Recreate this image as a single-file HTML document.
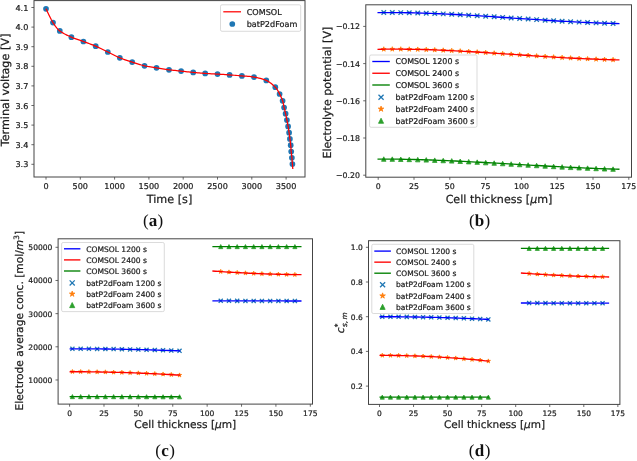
<!DOCTYPE html>
<html><head><meta charset="utf-8"><title>Figure</title>
<style>html,body{margin:0;padding:0;background:#fff}svg{display:block;filter:blur(0.35px)}text{text-rendering:geometricPrecision;stroke:#222;stroke-width:0.22px;font-family:'DejaVu Sans','Liberation Sans',sans-serif}</style></head><body>
<svg width="637" height="461" viewBox="0 0 637 461">
<rect width="637" height="461" fill="#fff"/>
<g id="pa">
<circle cx="46" cy="8.8" r="2.85" fill="#1f77b4"/>
<circle cx="53" cy="22.6" r="2.85" fill="#1f77b4"/>
<circle cx="59.8" cy="30.9" r="2.85" fill="#1f77b4"/>
<circle cx="71.4" cy="37.2" r="2.85" fill="#1f77b4"/>
<circle cx="83.4" cy="41.5" r="2.85" fill="#1f77b4"/>
<circle cx="95.7" cy="46.2" r="2.85" fill="#1f77b4"/>
<circle cx="107.8" cy="52" r="2.85" fill="#1f77b4"/>
<circle cx="119.8" cy="57.8" r="2.85" fill="#1f77b4"/>
<circle cx="132.2" cy="62.1" r="2.85" fill="#1f77b4"/>
<circle cx="144.5" cy="65.8" r="2.85" fill="#1f77b4"/>
<circle cx="156.5" cy="67.8" r="2.85" fill="#1f77b4"/>
<circle cx="169" cy="69.8" r="2.85" fill="#1f77b4"/>
<circle cx="181.1" cy="71.1" r="2.85" fill="#1f77b4"/>
<circle cx="193.2" cy="72.4" r="2.85" fill="#1f77b4"/>
<circle cx="205.2" cy="73.4" r="2.85" fill="#1f77b4"/>
<circle cx="217.5" cy="74.1" r="2.85" fill="#1f77b4"/>
<circle cx="229.6" cy="74.9" r="2.85" fill="#1f77b4"/>
<circle cx="241.9" cy="75.9" r="2.85" fill="#1f77b4"/>
<circle cx="254" cy="77.1" r="2.85" fill="#1f77b4"/>
<circle cx="266.3" cy="80.4" r="2.85" fill="#1f77b4"/>
<circle cx="275.3" cy="87.2" r="2.85" fill="#1f77b4"/>
<circle cx="279.6" cy="94" r="2.85" fill="#1f77b4"/>
<circle cx="282.6" cy="100.8" r="2.85" fill="#1f77b4"/>
<circle cx="284.1" cy="107.5" r="2.85" fill="#1f77b4"/>
<circle cx="285.6" cy="113.7" r="2.85" fill="#1f77b4"/>
<circle cx="286.9" cy="120.1" r="2.85" fill="#1f77b4"/>
<circle cx="288.1" cy="126.4" r="2.85" fill="#1f77b4"/>
<circle cx="289.1" cy="132.7" r="2.85" fill="#1f77b4"/>
<circle cx="289.9" cy="138.9" r="2.85" fill="#1f77b4"/>
<circle cx="290.7" cy="145.2" r="2.85" fill="#1f77b4"/>
<circle cx="291.2" cy="151.5" r="2.85" fill="#1f77b4"/>
<circle cx="291.9" cy="157.8" r="2.85" fill="#1f77b4"/>
<circle cx="292.4" cy="164.1" r="2.85" fill="#1f77b4"/>
<polyline points="46,8.8 46.54,9.9 47.26,11.41 48.12,13.21 49.07,15.18 50.08,17.22 51.1,19.21 52.09,21.04 53,22.6 53.83,23.91 54.6,25.11 55.35,26.2 56.11,27.22 56.91,28.18 57.77,29.09 58.72,30 59.8,30.9 61.02,31.8 62.35,32.66 63.78,33.5 65.28,34.3 66.81,35.07 68.36,35.81 69.9,36.52 71.4,37.2 72.88,37.83 74.36,38.41 75.86,38.94 77.36,39.45 78.86,39.95 80.37,40.44 81.88,40.96 83.4,41.5 84.92,42.06 86.46,42.62 88,43.18 89.54,43.76 91.09,44.34 92.63,44.94 94.17,45.56 95.7,46.2 97.22,46.87 98.74,47.57 100.26,48.29 101.77,49.03 103.28,49.78 104.79,50.52 106.29,51.27 107.8,52 109.3,52.74 110.8,53.49 112.29,54.24 113.78,54.99 115.28,55.73 116.77,56.46 118.28,57.15 119.8,57.8 121.33,58.41 122.87,58.99 124.43,59.55 125.98,60.08 127.54,60.6 129.1,61.1 130.65,61.6 132.2,62.1 133.74,62.6 135.29,63.11 136.83,63.61 138.38,64.09 139.91,64.56 141.45,65.01 142.98,65.42 144.5,65.8 146.01,66.13 147.51,66.42 149,66.67 150.49,66.91 151.98,67.12 153.47,67.34 154.98,67.56 156.5,67.8 158.04,68.05 159.6,68.32 161.17,68.58 162.74,68.84 164.32,69.1 165.89,69.35 167.45,69.58 169,69.8 170.53,70 172.05,70.17 173.57,70.34 175.08,70.49 176.58,70.64 178.08,70.79 179.59,70.94 181.1,71.1 182.61,71.26 184.13,71.43 185.64,71.6 187.16,71.77 188.67,71.93 190.18,72.1 191.69,72.25 193.2,72.4 194.7,72.54 196.2,72.68 197.69,72.81 199.19,72.94 200.68,73.06 202.18,73.18 203.69,73.29 205.2,73.4 206.72,73.5 208.26,73.59 209.8,73.68 211.34,73.76 212.89,73.84 214.43,73.92 215.97,74.01 217.5,74.1 219.02,74.19 220.53,74.29 222.04,74.38 223.55,74.48 225.06,74.58 226.57,74.68 228.08,74.79 229.6,74.9 231.13,75.01 232.67,75.13 234.21,75.25 235.75,75.38 237.29,75.5 238.83,75.63 240.37,75.76 241.9,75.9 243.42,76.03 244.93,76.14 246.44,76.24 247.95,76.36 249.46,76.49 250.97,76.65 252.48,76.85 254,77.1 255.55,77.39 257.14,77.7 258.74,78.03 260.34,78.4 261.92,78.81 263.45,79.28 264.92,79.81 266.3,80.4 267.62,81.08 268.89,81.85 270.12,82.69 271.3,83.58 272.41,84.5 273.46,85.42 274.42,86.33 275.3,87.2 276.07,88.05 276.74,88.9 277.31,89.75 277.83,90.6 278.29,91.45 278.73,92.3 279.16,93.15 279.6,94 280.05,94.85 280.48,95.7 280.89,96.55 281.28,97.41 281.64,98.26 281.99,99.11 282.31,99.95 282.6,100.8 282.86,101.65 283.08,102.49 283.27,103.34 283.44,104.19 283.6,105.03 283.76,105.86 283.92,106.69 284.1,107.5 284.29,108.3 284.48,109.08 284.67,109.85 284.86,110.62 285.05,111.38 285.24,112.15 285.42,112.92 285.6,113.7 285.77,114.49 285.94,115.29 286.11,116.09 286.27,116.89 286.43,117.7 286.59,118.5 286.74,119.3 286.9,120.1 287.06,120.89 287.21,121.68 287.37,122.47 287.52,123.26 287.67,124.04 287.82,124.83 287.96,125.61 288.1,126.4 288.24,127.19 288.37,127.98 288.5,128.77 288.63,129.56 288.75,130.34 288.87,131.13 288.99,131.92 289.1,132.7 289.21,133.48 289.31,134.25 289.41,135.03 289.51,135.8 289.61,136.57 289.7,137.35 289.8,138.12 289.9,138.9 290,139.68 290.11,140.47 290.21,141.26 290.32,142.04 290.42,142.83 290.52,143.62 290.61,144.41 290.7,145.2 290.78,145.99 290.84,146.77 290.9,147.56 290.96,148.35 291.01,149.14 291.07,149.92 291.13,150.71 291.2,151.5 291.28,152.29 291.37,153.07 291.46,153.86 291.55,154.65 291.64,155.44 291.73,156.23 291.82,157.01 291.9,157.8 291.97,158.6 292.04,159.41 292.11,160.22 292.17,161.04 292.23,161.84 292.29,162.62 292.34,163.38 292.4,164.1 292.46,164.81 292.52,165.54 292.57,166.26 292.63,166.94 292.68,167.58 292.73,168.15 292.77,168.63 292.8,169" fill="none" stroke="#ff0000" stroke-width="1.25" stroke-linejoin="round"/>
<rect x="34" y="0.6" width="271" height="176.4" fill="none" stroke="#444444" stroke-width="1.0"/>
<line x1="46" y1="177" x2="46" y2="179.6" stroke="#444444" stroke-width="0.8"/>
<text x="46" y="188.86" font-size="8.1" text-anchor="middle" fill="#1a1a1a" >0</text>
<line x1="80.3" y1="177" x2="80.3" y2="179.6" stroke="#444444" stroke-width="0.8"/>
<text x="80.3" y="188.86" font-size="8.1" text-anchor="middle" fill="#1a1a1a" >500</text>
<line x1="114.6" y1="177" x2="114.6" y2="179.6" stroke="#444444" stroke-width="0.8"/>
<text x="114.6" y="188.86" font-size="8.1" text-anchor="middle" fill="#1a1a1a" >1000</text>
<line x1="148.9" y1="177" x2="148.9" y2="179.6" stroke="#444444" stroke-width="0.8"/>
<text x="148.9" y="188.86" font-size="8.1" text-anchor="middle" fill="#1a1a1a" >1500</text>
<line x1="183.2" y1="177" x2="183.2" y2="179.6" stroke="#444444" stroke-width="0.8"/>
<text x="183.2" y="188.86" font-size="8.1" text-anchor="middle" fill="#1a1a1a" >2000</text>
<line x1="217.5" y1="177" x2="217.5" y2="179.6" stroke="#444444" stroke-width="0.8"/>
<text x="217.5" y="188.86" font-size="8.1" text-anchor="middle" fill="#1a1a1a" >2500</text>
<line x1="251.8" y1="177" x2="251.8" y2="179.6" stroke="#444444" stroke-width="0.8"/>
<text x="251.8" y="188.86" font-size="8.1" text-anchor="middle" fill="#1a1a1a" >3000</text>
<line x1="286.1" y1="177" x2="286.1" y2="179.6" stroke="#444444" stroke-width="0.8"/>
<text x="286.1" y="188.86" font-size="8.1" text-anchor="middle" fill="#1a1a1a" >3500</text>
<line x1="31.4" y1="7.5" x2="34" y2="7.5" stroke="#444444" stroke-width="0.8"/>
<text x="28.3" y="10.58" font-size="8.1" text-anchor="end" fill="#1a1a1a" >4.1</text>
<line x1="31.4" y1="27.1" x2="34" y2="27.1" stroke="#444444" stroke-width="0.8"/>
<text x="28.3" y="30.18" font-size="8.1" text-anchor="end" fill="#1a1a1a" >4.0</text>
<line x1="31.4" y1="46.7" x2="34" y2="46.7" stroke="#444444" stroke-width="0.8"/>
<text x="28.3" y="49.78" font-size="8.1" text-anchor="end" fill="#1a1a1a" >3.9</text>
<line x1="31.4" y1="66.3" x2="34" y2="66.3" stroke="#444444" stroke-width="0.8"/>
<text x="28.3" y="69.38" font-size="8.1" text-anchor="end" fill="#1a1a1a" >3.8</text>
<line x1="31.4" y1="85.9" x2="34" y2="85.9" stroke="#444444" stroke-width="0.8"/>
<text x="28.3" y="88.98" font-size="8.1" text-anchor="end" fill="#1a1a1a" >3.7</text>
<line x1="31.4" y1="105.5" x2="34" y2="105.5" stroke="#444444" stroke-width="0.8"/>
<text x="28.3" y="108.58" font-size="8.1" text-anchor="end" fill="#1a1a1a" >3.6</text>
<line x1="31.4" y1="125.1" x2="34" y2="125.1" stroke="#444444" stroke-width="0.8"/>
<text x="28.3" y="128.18" font-size="8.1" text-anchor="end" fill="#1a1a1a" >3.5</text>
<line x1="31.4" y1="144.7" x2="34" y2="144.7" stroke="#444444" stroke-width="0.8"/>
<text x="28.3" y="147.78" font-size="8.1" text-anchor="end" fill="#1a1a1a" >3.4</text>
<line x1="31.4" y1="164.3" x2="34" y2="164.3" stroke="#444444" stroke-width="0.8"/>
<text x="28.3" y="167.38" font-size="8.1" text-anchor="end" fill="#1a1a1a" >3.3</text>
<text x="169.5" y="202.7" font-size="11.2" text-anchor="middle" fill="#1a1a1a" >Time [s]</text>
<text transform="translate(9.2,90) rotate(-90)" font-size="11.2" text-anchor="middle" fill="#1a1a1a">Terminal voltage [V]</text>
<rect x="220.5" y="4.8" width="80.2" height="26.5" rx="1.5" ry="1.5" fill="#ffffff" fill-opacity="0.8" stroke="#cccccc" stroke-width="0.7"/>
<line x1="223.3" y1="11.8" x2="241" y2="11.8" stroke="#ff0000" stroke-width="1.25"/>
<text x="246.7" y="14.75" font-size="8.1" text-anchor="start" fill="#1a1a1a" >COMSOL</text>
<circle cx="232.3" cy="24" r="2.85" fill="#1f77b4"/>
<text x="246.7" y="26.8" font-size="8.1" text-anchor="start" fill="#1a1a1a" >batP2dFoam</text>
</g>
<text x="153.12" y="225.8" letter-spacing="0.15" text-anchor="middle" fill="#111" stroke="none" style="stroke:none;font-family:'Liberation Serif','DejaVu Serif',serif" font-size="17">(<tspan font-weight="bold">a</tspan>)</text>
<g id="pb">
<path d="M381.53,10.33L386.03,14.83M381.53,14.83L386.03,10.33" stroke="#1f77b4" stroke-width="1.3" fill="none"/>
<path d="M390.03,10.32L394.53,14.82M390.03,14.82L394.53,10.32" stroke="#1f77b4" stroke-width="1.3" fill="none"/>
<path d="M398.52,10.39L403.02,14.89M398.52,14.89L403.02,10.39" stroke="#1f77b4" stroke-width="1.3" fill="none"/>
<path d="M407.01,10.52L411.51,15.02M407.01,15.02L411.51,10.52" stroke="#1f77b4" stroke-width="1.3" fill="none"/>
<path d="M415.5,10.72L420,15.22M415.5,15.22L420,10.72" stroke="#1f77b4" stroke-width="1.3" fill="none"/>
<path d="M423.99,10.98L428.49,15.48M423.99,15.48L428.49,10.98" stroke="#1f77b4" stroke-width="1.3" fill="none"/>
<path d="M432.49,11.29L436.99,15.79M432.49,15.79L436.99,11.29" stroke="#1f77b4" stroke-width="1.3" fill="none"/>
<path d="M440.98,11.65L445.48,16.15M440.98,16.15L445.48,11.65" stroke="#1f77b4" stroke-width="1.3" fill="none"/>
<path d="M449.47,12.06L453.97,16.56M449.47,16.56L453.97,12.06" stroke="#1f77b4" stroke-width="1.3" fill="none"/>
<path d="M457.96,12.5L462.46,17M457.96,17L462.46,12.5" stroke="#1f77b4" stroke-width="1.3" fill="none"/>
<path d="M466.45,12.98L470.95,17.48M466.45,17.48L470.95,12.98" stroke="#1f77b4" stroke-width="1.3" fill="none"/>
<path d="M474.94,13.48L479.44,17.98M474.94,17.98L479.44,13.48" stroke="#1f77b4" stroke-width="1.3" fill="none"/>
<path d="M483.44,14.01L487.94,18.51M483.44,18.51L487.94,14.01" stroke="#1f77b4" stroke-width="1.3" fill="none"/>
<path d="M491.93,14.56L496.43,19.06M491.93,19.06L496.43,14.56" stroke="#1f77b4" stroke-width="1.3" fill="none"/>
<path d="M500.42,15.12L504.92,19.62M500.42,19.62L504.92,15.12" stroke="#1f77b4" stroke-width="1.3" fill="none"/>
<path d="M508.91,15.69L513.41,20.19M508.91,20.19L513.41,15.69" stroke="#1f77b4" stroke-width="1.3" fill="none"/>
<path d="M517.4,16.26L521.9,20.76M517.4,20.76L521.9,16.26" stroke="#1f77b4" stroke-width="1.3" fill="none"/>
<path d="M525.89,16.83L530.39,21.33M525.89,21.33L530.39,16.83" stroke="#1f77b4" stroke-width="1.3" fill="none"/>
<path d="M534.39,17.39L538.89,21.89M534.39,21.89L538.89,17.39" stroke="#1f77b4" stroke-width="1.3" fill="none"/>
<path d="M542.88,17.93L547.38,22.43M542.88,22.43L547.38,17.93" stroke="#1f77b4" stroke-width="1.3" fill="none"/>
<path d="M551.37,18.46L555.87,22.96M551.37,22.96L555.87,18.46" stroke="#1f77b4" stroke-width="1.3" fill="none"/>
<path d="M559.86,18.96L564.36,23.46M559.86,23.46L564.36,18.96" stroke="#1f77b4" stroke-width="1.3" fill="none"/>
<path d="M568.35,19.44L572.85,23.94M568.35,23.94L572.85,19.44" stroke="#1f77b4" stroke-width="1.3" fill="none"/>
<path d="M576.85,19.88L581.35,24.38M576.85,24.38L581.35,19.88" stroke="#1f77b4" stroke-width="1.3" fill="none"/>
<path d="M585.34,20.28L589.84,24.78M585.34,24.78L589.84,20.28" stroke="#1f77b4" stroke-width="1.3" fill="none"/>
<path d="M593.83,20.64L598.33,25.14M593.83,25.14L598.33,20.64" stroke="#1f77b4" stroke-width="1.3" fill="none"/>
<path d="M602.32,20.95L606.82,25.45M602.32,25.45L606.82,20.95" stroke="#1f77b4" stroke-width="1.3" fill="none"/>
<path d="M610.81,21.21L615.31,25.71M610.81,25.71L615.31,21.21" stroke="#1f77b4" stroke-width="1.3" fill="none"/>
<polyline points="377.48,12.64 381.59,12.6 385.69,12.58 389.79,12.57 393.89,12.58 397.99,12.61 402.09,12.65 406.2,12.72 410.3,12.79 414.4,12.88 418.5,12.99 422.6,13.11 426.71,13.24 430.81,13.39 434.91,13.55 439.01,13.72 443.11,13.9 447.22,14.09 451.32,14.29 455.42,14.5 459.52,14.71 463.62,14.94 467.72,15.17 471.83,15.41 475.93,15.66 480.03,15.91 484.13,16.17 488.23,16.43 492.34,16.69 496.44,16.96 500.54,17.23 504.64,17.5 508.74,17.78 512.84,18.05 516.95,18.33 521.05,18.6 525.15,18.88 529.25,19.15 533.35,19.42 537.46,19.69 541.56,19.95 545.66,20.21 549.76,20.47 553.86,20.72 557.96,20.97 562.07,21.21 566.17,21.44 570.27,21.67 574.37,21.89 578.47,22.1 582.58,22.3 586.68,22.49 590.78,22.67 594.88,22.84 598.98,23 603.08,23.15 607.19,23.29 611.29,23.41 615.39,23.52 619.49,23.61" fill="none" stroke="#0000ff" stroke-width="1.35" stroke-linejoin="round"/>
<polygon points="383.78,46.74 384.34,48.44 386.12,48.44 384.68,49.49 385.23,51.19 383.78,50.14 382.34,51.19 382.89,49.49 381.45,48.44 383.23,48.44" fill="#ff7f0e" stroke="#ff7f0e" stroke-width="0.8" stroke-linejoin="miter"/>
<polygon points="392.28,46.68 392.83,48.38 394.61,48.38 393.17,49.43 393.72,51.13 392.28,50.08 390.83,51.13 391.38,49.43 389.94,48.38 391.72,48.38" fill="#ff7f0e" stroke="#ff7f0e" stroke-width="0.8" stroke-linejoin="miter"/>
<polygon points="400.77,46.7 401.32,48.39 403.11,48.39 401.66,49.44 402.21,51.14 400.77,50.09 399.32,51.14 399.88,49.44 398.43,48.39 400.22,48.39" fill="#ff7f0e" stroke="#ff7f0e" stroke-width="0.8" stroke-linejoin="miter"/>
<polygon points="409.26,46.79 409.81,48.49 411.6,48.49 410.15,49.54 410.7,51.24 409.26,50.19 407.82,51.24 408.37,49.54 406.92,48.49 408.71,48.49" fill="#ff7f0e" stroke="#ff7f0e" stroke-width="0.8" stroke-linejoin="miter"/>
<polygon points="417.75,46.95 418.3,48.65 420.09,48.65 418.64,49.7 419.2,51.4 417.75,50.35 416.31,51.4 416.86,49.7 415.41,48.65 417.2,48.65" fill="#ff7f0e" stroke="#ff7f0e" stroke-width="0.8" stroke-linejoin="miter"/>
<polygon points="426.24,47.19 426.8,48.88 428.58,48.88 427.14,49.93 427.69,51.63 426.24,50.58 424.8,51.63 425.35,49.93 423.91,48.88 425.69,48.88" fill="#ff7f0e" stroke="#ff7f0e" stroke-width="0.8" stroke-linejoin="miter"/>
<polygon points="434.74,47.48 435.29,49.18 437.07,49.18 435.63,50.23 436.18,51.92 434.74,50.87 433.29,51.92 433.84,50.23 432.4,49.18 434.18,49.18" fill="#ff7f0e" stroke="#ff7f0e" stroke-width="0.8" stroke-linejoin="miter"/>
<polygon points="443.23,47.82 443.78,49.52 445.56,49.52 444.12,50.57 444.67,52.27 443.23,51.22 441.78,52.27 442.33,50.57 440.89,49.52 442.68,49.52" fill="#ff7f0e" stroke="#ff7f0e" stroke-width="0.8" stroke-linejoin="miter"/>
<polygon points="451.72,48.22 452.27,49.91 454.06,49.91 452.61,50.96 453.16,52.66 451.72,51.61 450.27,52.66 450.83,50.96 449.38,49.91 451.17,49.91" fill="#ff7f0e" stroke="#ff7f0e" stroke-width="0.8" stroke-linejoin="miter"/>
<polygon points="460.21,48.65 460.76,50.35 462.55,50.35 461.1,51.4 461.66,53.1 460.21,52.05 458.77,53.1 459.32,51.4 457.87,50.35 459.66,50.35" fill="#ff7f0e" stroke="#ff7f0e" stroke-width="0.8" stroke-linejoin="miter"/>
<polygon points="468.7,49.13 469.25,50.83 471.04,50.83 469.6,51.88 470.15,53.57 468.7,52.52 467.26,53.57 467.81,51.88 466.36,50.83 468.15,50.83" fill="#ff7f0e" stroke="#ff7f0e" stroke-width="0.8" stroke-linejoin="miter"/>
<polygon points="477.19,49.63 477.75,51.33 479.53,51.33 478.09,52.38 478.64,54.08 477.19,53.03 475.75,54.08 476.3,52.38 474.86,51.33 476.64,51.33" fill="#ff7f0e" stroke="#ff7f0e" stroke-width="0.8" stroke-linejoin="miter"/>
<polygon points="485.69,50.16 486.24,51.86 488.02,51.86 486.58,52.91 487.13,54.61 485.69,53.56 484.24,54.61 484.79,52.91 483.35,51.86 485.13,51.86" fill="#ff7f0e" stroke="#ff7f0e" stroke-width="0.8" stroke-linejoin="miter"/>
<polygon points="494.18,50.71 494.73,52.41 496.52,52.41 495.07,53.46 495.62,55.16 494.18,54.11 492.73,55.16 493.28,53.46 491.84,52.41 493.63,52.41" fill="#ff7f0e" stroke="#ff7f0e" stroke-width="0.8" stroke-linejoin="miter"/>
<polygon points="502.67,51.28 503.22,52.98 505.01,52.98 503.56,54.03 504.11,55.72 502.67,54.68 501.22,55.72 501.78,54.03 500.33,52.98 502.12,52.98" fill="#ff7f0e" stroke="#ff7f0e" stroke-width="0.8" stroke-linejoin="miter"/>
<polygon points="511.16,51.85 511.71,53.55 513.5,53.55 512.05,54.6 512.61,56.3 511.16,55.25 509.72,56.3 510.27,54.6 508.82,53.55 510.61,53.55" fill="#ff7f0e" stroke="#ff7f0e" stroke-width="0.8" stroke-linejoin="miter"/>
<polygon points="519.65,52.43 520.2,54.13 521.99,54.13 520.55,55.18 521.1,56.87 519.65,55.82 518.21,56.87 518.76,55.18 517.32,54.13 519.1,54.13" fill="#ff7f0e" stroke="#ff7f0e" stroke-width="0.8" stroke-linejoin="miter"/>
<polygon points="528.14,53 528.7,54.7 530.48,54.7 529.04,55.75 529.59,57.45 528.14,56.4 526.7,57.45 527.25,55.75 525.81,54.7 527.59,54.7" fill="#ff7f0e" stroke="#ff7f0e" stroke-width="0.8" stroke-linejoin="miter"/>
<polygon points="536.64,53.56 537.19,55.26 538.97,55.26 537.53,56.31 538.08,58.01 536.64,56.96 535.19,58.01 535.74,56.31 534.3,55.26 536.08,55.26" fill="#ff7f0e" stroke="#ff7f0e" stroke-width="0.8" stroke-linejoin="miter"/>
<polygon points="545.13,54.11 545.68,55.81 547.47,55.81 546.02,56.86 546.57,58.56 545.13,57.51 543.68,58.56 544.24,56.86 542.79,55.81 544.58,55.81" fill="#ff7f0e" stroke="#ff7f0e" stroke-width="0.8" stroke-linejoin="miter"/>
<polygon points="553.62,54.64 554.17,56.34 555.96,56.34 554.51,57.39 555.06,59.09 553.62,58.04 552.18,59.09 552.73,57.39 551.28,56.34 553.07,56.34" fill="#ff7f0e" stroke="#ff7f0e" stroke-width="0.8" stroke-linejoin="miter"/>
<polygon points="562.11,55.15 562.66,56.85 564.45,56.85 563,57.9 563.56,59.59 562.11,58.55 560.67,59.59 561.22,57.9 559.77,56.85 561.56,56.85" fill="#ff7f0e" stroke="#ff7f0e" stroke-width="0.8" stroke-linejoin="miter"/>
<polygon points="570.6,55.62 571.16,57.32 572.94,57.32 571.5,58.37 572.05,60.07 570.6,59.02 569.16,60.07 569.71,58.37 568.27,57.32 570.05,57.32" fill="#ff7f0e" stroke="#ff7f0e" stroke-width="0.8" stroke-linejoin="miter"/>
<polygon points="579.1,56.06 579.65,57.75 581.43,57.75 579.99,58.8 580.54,60.5 579.1,59.45 577.65,60.5 578.2,58.8 576.76,57.75 578.54,57.75" fill="#ff7f0e" stroke="#ff7f0e" stroke-width="0.8" stroke-linejoin="miter"/>
<polygon points="587.59,56.45 588.14,58.15 589.92,58.15 588.48,59.2 589.03,60.89 587.59,59.84 586.14,60.89 586.69,59.2 585.25,58.15 587.04,58.15" fill="#ff7f0e" stroke="#ff7f0e" stroke-width="0.8" stroke-linejoin="miter"/>
<polygon points="596.08,56.79 596.63,58.49 598.42,58.49 596.97,59.54 597.52,61.24 596.08,60.19 594.63,61.24 595.19,59.54 593.74,58.49 595.53,58.49" fill="#ff7f0e" stroke="#ff7f0e" stroke-width="0.8" stroke-linejoin="miter"/>
<polygon points="604.57,57.08 605.12,58.78 606.91,58.78 605.46,59.83 606.02,61.53 604.57,60.48 603.13,61.53 603.68,59.83 602.23,58.78 604.02,58.78" fill="#ff7f0e" stroke="#ff7f0e" stroke-width="0.8" stroke-linejoin="miter"/>
<polygon points="613.06,57.31 613.61,59.01 615.4,59.01 613.96,60.06 614.51,61.75 613.06,60.7 611.62,61.75 612.17,60.06 610.72,59.01 612.51,59.01" fill="#ff7f0e" stroke="#ff7f0e" stroke-width="0.8" stroke-linejoin="miter"/>
<polyline points="377.48,49.31 381.59,49.23 385.69,49.18 389.79,49.15 393.89,49.13 397.99,49.14 402.09,49.16 406.2,49.21 410.3,49.26 414.4,49.34 418.5,49.43 422.6,49.54 426.71,49.66 430.81,49.79 434.91,49.94 439.01,50.1 443.11,50.28 447.22,50.46 451.32,50.65 455.42,50.86 459.52,51.07 463.62,51.3 467.72,51.53 471.83,51.77 475.93,52.01 480.03,52.26 484.13,52.52 488.23,52.78 492.34,53.05 496.44,53.32 500.54,53.59 504.64,53.87 508.74,54.15 512.84,54.42 516.95,54.7 521.05,54.98 525.15,55.26 529.25,55.53 533.35,55.81 537.46,56.08 541.56,56.34 545.66,56.61 549.76,56.86 553.86,57.12 557.96,57.36 562.07,57.6 566.17,57.84 570.27,58.06 574.37,58.28 578.47,58.48 582.58,58.68 586.68,58.87 590.78,59.04 594.88,59.2 598.98,59.35 603.08,59.49 607.19,59.61 611.29,59.72 615.39,59.82 619.49,59.89" fill="none" stroke="#ff0000" stroke-width="1.35" stroke-linejoin="round"/>
<polygon points="383.78,156.81 381.53,161.31 386.03,161.31" fill="#2ca02c" stroke="#2ca02c" stroke-width="0.8" stroke-linejoin="miter"/>
<polygon points="392.28,156.87 390.03,161.37 394.53,161.37" fill="#2ca02c" stroke="#2ca02c" stroke-width="0.8" stroke-linejoin="miter"/>
<polygon points="400.77,156.99 398.52,161.49 403.02,161.49" fill="#2ca02c" stroke="#2ca02c" stroke-width="0.8" stroke-linejoin="miter"/>
<polygon points="409.26,157.15 407.01,161.65 411.51,161.65" fill="#2ca02c" stroke="#2ca02c" stroke-width="0.8" stroke-linejoin="miter"/>
<polygon points="417.75,157.37 415.5,161.87 420,161.87" fill="#2ca02c" stroke="#2ca02c" stroke-width="0.8" stroke-linejoin="miter"/>
<polygon points="426.24,157.62 423.99,162.12 428.49,162.12" fill="#2ca02c" stroke="#2ca02c" stroke-width="0.8" stroke-linejoin="miter"/>
<polygon points="434.74,157.92 432.49,162.42 436.99,162.42" fill="#2ca02c" stroke="#2ca02c" stroke-width="0.8" stroke-linejoin="miter"/>
<polygon points="443.23,158.25 440.98,162.75 445.48,162.75" fill="#2ca02c" stroke="#2ca02c" stroke-width="0.8" stroke-linejoin="miter"/>
<polygon points="451.72,158.62 449.47,163.12 453.97,163.12" fill="#2ca02c" stroke="#2ca02c" stroke-width="0.8" stroke-linejoin="miter"/>
<polygon points="460.21,159.01 457.96,163.51 462.46,163.51" fill="#2ca02c" stroke="#2ca02c" stroke-width="0.8" stroke-linejoin="miter"/>
<polygon points="468.7,159.43 466.45,163.93 470.95,163.93" fill="#2ca02c" stroke="#2ca02c" stroke-width="0.8" stroke-linejoin="miter"/>
<polygon points="477.19,159.87 474.94,164.37 479.44,164.37" fill="#2ca02c" stroke="#2ca02c" stroke-width="0.8" stroke-linejoin="miter"/>
<polygon points="485.69,160.33 483.44,164.83 487.94,164.83" fill="#2ca02c" stroke="#2ca02c" stroke-width="0.8" stroke-linejoin="miter"/>
<polygon points="494.18,160.8 491.93,165.3 496.43,165.3" fill="#2ca02c" stroke="#2ca02c" stroke-width="0.8" stroke-linejoin="miter"/>
<polygon points="502.67,161.28 500.42,165.78 504.92,165.78" fill="#2ca02c" stroke="#2ca02c" stroke-width="0.8" stroke-linejoin="miter"/>
<polygon points="511.16,161.77 508.91,166.27 513.41,166.27" fill="#2ca02c" stroke="#2ca02c" stroke-width="0.8" stroke-linejoin="miter"/>
<polygon points="519.65,162.26 517.4,166.76 521.9,166.76" fill="#2ca02c" stroke="#2ca02c" stroke-width="0.8" stroke-linejoin="miter"/>
<polygon points="528.14,162.75 525.89,167.25 530.39,167.25" fill="#2ca02c" stroke="#2ca02c" stroke-width="0.8" stroke-linejoin="miter"/>
<polygon points="536.64,163.24 534.39,167.74 538.89,167.74" fill="#2ca02c" stroke="#2ca02c" stroke-width="0.8" stroke-linejoin="miter"/>
<polygon points="545.13,163.72 542.88,168.22 547.38,168.22" fill="#2ca02c" stroke="#2ca02c" stroke-width="0.8" stroke-linejoin="miter"/>
<polygon points="553.62,164.19 551.37,168.69 555.87,168.69" fill="#2ca02c" stroke="#2ca02c" stroke-width="0.8" stroke-linejoin="miter"/>
<polygon points="562.11,164.64 559.86,169.14 564.36,169.14" fill="#2ca02c" stroke="#2ca02c" stroke-width="0.8" stroke-linejoin="miter"/>
<polygon points="570.6,165.08 568.35,169.58 572.85,169.58" fill="#2ca02c" stroke="#2ca02c" stroke-width="0.8" stroke-linejoin="miter"/>
<polygon points="579.1,165.49 576.85,169.99 581.35,169.99" fill="#2ca02c" stroke="#2ca02c" stroke-width="0.8" stroke-linejoin="miter"/>
<polygon points="587.59,165.87 585.34,170.37 589.84,170.37" fill="#2ca02c" stroke="#2ca02c" stroke-width="0.8" stroke-linejoin="miter"/>
<polygon points="596.08,166.23 593.83,170.73 598.33,170.73" fill="#2ca02c" stroke="#2ca02c" stroke-width="0.8" stroke-linejoin="miter"/>
<polygon points="604.57,166.55 602.32,171.05 606.82,171.05" fill="#2ca02c" stroke="#2ca02c" stroke-width="0.8" stroke-linejoin="miter"/>
<polygon points="613.06,166.84 610.81,171.34 615.31,171.34" fill="#2ca02c" stroke="#2ca02c" stroke-width="0.8" stroke-linejoin="miter"/>
<polyline points="377.48,159.05 381.59,159.05 385.69,159.07 389.79,159.1 393.89,159.14 397.99,159.19 402.09,159.26 406.2,159.34 410.3,159.43 414.4,159.53 418.5,159.64 422.6,159.76 426.71,159.89 430.81,160.03 434.91,160.18 439.01,160.33 443.11,160.5 447.22,160.67 451.32,160.85 455.42,161.03 459.52,161.23 463.62,161.43 467.72,161.63 471.83,161.84 475.93,162.05 480.03,162.27 484.13,162.49 488.23,162.72 492.34,162.94 496.44,163.17 500.54,163.41 504.64,163.64 508.74,163.88 512.84,164.12 516.95,164.35 521.05,164.59 525.15,164.83 529.25,165.07 533.35,165.3 537.46,165.54 541.56,165.77 545.66,166 549.76,166.23 553.86,166.45 557.96,166.67 562.07,166.89 566.17,167.1 570.27,167.31 574.37,167.51 578.47,167.71 582.58,167.9 586.68,168.08 590.78,168.26 594.88,168.43 598.98,168.59 603.08,168.75 607.19,168.89 611.29,169.03 615.39,169.16 619.49,169.28" fill="none" stroke="#008000" stroke-width="1.35" stroke-linejoin="round"/>
<rect x="365.8" y="4.8" width="265.7" height="172.4" fill="none" stroke="#444444" stroke-width="1.0"/>
<line x1="378.2" y1="177.2" x2="378.2" y2="179.8" stroke="#444444" stroke-width="0.8"/>
<text x="378.2" y="188.87" font-size="7.85" text-anchor="middle" fill="#1a1a1a" >0</text>
<line x1="414" y1="177.2" x2="414" y2="179.8" stroke="#444444" stroke-width="0.8"/>
<text x="414" y="188.87" font-size="7.85" text-anchor="middle" fill="#1a1a1a" >25</text>
<line x1="449.8" y1="177.2" x2="449.8" y2="179.8" stroke="#444444" stroke-width="0.8"/>
<text x="449.8" y="188.87" font-size="7.85" text-anchor="middle" fill="#1a1a1a" >50</text>
<line x1="485.6" y1="177.2" x2="485.6" y2="179.8" stroke="#444444" stroke-width="0.8"/>
<text x="485.6" y="188.87" font-size="7.85" text-anchor="middle" fill="#1a1a1a" >75</text>
<line x1="521.4" y1="177.2" x2="521.4" y2="179.8" stroke="#444444" stroke-width="0.8"/>
<text x="521.4" y="188.87" font-size="7.85" text-anchor="middle" fill="#1a1a1a" >100</text>
<line x1="557.2" y1="177.2" x2="557.2" y2="179.8" stroke="#444444" stroke-width="0.8"/>
<text x="557.2" y="188.87" font-size="7.85" text-anchor="middle" fill="#1a1a1a" >125</text>
<line x1="593" y1="177.2" x2="593" y2="179.8" stroke="#444444" stroke-width="0.8"/>
<text x="593" y="188.87" font-size="7.85" text-anchor="middle" fill="#1a1a1a" >150</text>
<line x1="628.8" y1="177.2" x2="628.8" y2="179.8" stroke="#444444" stroke-width="0.8"/>
<text x="628.8" y="188.87" font-size="7.85" text-anchor="middle" fill="#1a1a1a" >175</text>
<line x1="363.2" y1="26.4" x2="365.8" y2="26.4" stroke="#444444" stroke-width="0.8"/>
<text x="360.1" y="29.38" font-size="7.85" text-anchor="end" fill="#1a1a1a" >−0.12</text>
<line x1="363.2" y1="63.6" x2="365.8" y2="63.6" stroke="#444444" stroke-width="0.8"/>
<text x="360.1" y="66.58" font-size="7.85" text-anchor="end" fill="#1a1a1a" >−0.14</text>
<line x1="363.2" y1="100.8" x2="365.8" y2="100.8" stroke="#444444" stroke-width="0.8"/>
<text x="360.1" y="103.78" font-size="7.85" text-anchor="end" fill="#1a1a1a" >−0.16</text>
<line x1="363.2" y1="138" x2="365.8" y2="138" stroke="#444444" stroke-width="0.8"/>
<text x="360.1" y="140.98" font-size="7.85" text-anchor="end" fill="#1a1a1a" >−0.18</text>
<line x1="363.2" y1="175.2" x2="365.8" y2="175.2" stroke="#444444" stroke-width="0.8"/>
<text x="360.1" y="178.18" font-size="7.85" text-anchor="end" fill="#1a1a1a" >−0.20</text>
<text x="499" y="202.5" font-size="11.1" text-anchor="middle" fill="#1a1a1a" >Cell thickness [<tspan font-style="italic">μ</tspan>m]</text>
<text transform="translate(330.5,92.6) rotate(-90)" font-size="11.1" text-anchor="middle" fill="#1a1a1a">Electrolyte potential [V]</text>
<rect x="369.6" y="55" width="107.4" height="72.3" rx="1.5" ry="1.5" fill="#ffffff" fill-opacity="0.8" stroke="#cccccc" stroke-width="0.7"/>
<line x1="372.3" y1="61.5" x2="389.8" y2="61.5" stroke="#0000ff" stroke-width="1.35"/>
<text x="395.4" y="64.36" font-size="7.95" text-anchor="start" fill="#1a1a1a" >COMSOL 1200 s</text>
<line x1="372.3" y1="73.25" x2="389.8" y2="73.25" stroke="#ff0000" stroke-width="1.35"/>
<text x="395.4" y="76.11" font-size="7.95" text-anchor="start" fill="#1a1a1a" >COMSOL 2400 s</text>
<line x1="372.3" y1="85" x2="389.8" y2="85" stroke="#008000" stroke-width="1.35"/>
<text x="395.4" y="87.86" font-size="7.95" text-anchor="start" fill="#1a1a1a" >COMSOL 3600 s</text>
<path d="M378.5,94.7L383.6,99.8M378.5,99.8L383.6,94.7" stroke="#1f77b4" stroke-width="1.25" fill="none"/>
<text x="395.4" y="100.11" font-size="7.95" text-anchor="start" fill="#1a1a1a" >batP2dFoam 1200 s</text>
<polygon points="381.05,106.07 381.71,108.09 383.84,108.09 382.12,109.35 382.77,111.37 381.05,110.12 379.33,111.37 379.98,109.35 378.26,108.09 380.39,108.09" fill="#ff7f0e" stroke="#ff7f0e" stroke-width="0.8" stroke-linejoin="miter"/>
<text x="395.4" y="111.86" font-size="7.95" text-anchor="start" fill="#1a1a1a" >batP2dFoam 2400 s</text>
<polygon points="381.05,118.2 378.5,123.3 383.6,123.3" fill="#2ca02c" stroke="#2ca02c" stroke-width="0.8" stroke-linejoin="miter"/>
<text x="395.4" y="123.61" font-size="7.95" text-anchor="start" fill="#1a1a1a" >batP2dFoam 3600 s</text>
</g>
<text x="479.73" y="225.8" letter-spacing="0.25" text-anchor="middle" fill="#111" stroke="none" style="stroke:none;font-family:'Liberation Serif','DejaVu Serif',serif" font-size="17">(<tspan font-weight="bold">b</tspan>)</text>
<g id="pc">
<path d="M70.37,346.75L74.47,350.85M70.37,350.85L74.47,346.75" stroke="#1f77b4" stroke-width="1.3" fill="none"/>
<path d="M78.61,346.76L82.71,350.86M78.61,350.86L82.71,346.76" stroke="#1f77b4" stroke-width="1.3" fill="none"/>
<path d="M86.85,346.8L90.95,350.9M86.85,350.9L90.95,346.8" stroke="#1f77b4" stroke-width="1.3" fill="none"/>
<path d="M95.09,346.87L99.19,350.97M95.09,350.97L99.19,346.87" stroke="#1f77b4" stroke-width="1.3" fill="none"/>
<path d="M103.33,346.95L107.43,351.05M103.33,351.05L107.43,346.95" stroke="#1f77b4" stroke-width="1.3" fill="none"/>
<path d="M111.57,347.06L115.67,351.16M111.57,351.16L115.67,347.06" stroke="#1f77b4" stroke-width="1.3" fill="none"/>
<path d="M119.81,347.2L123.91,351.3M119.81,351.3L123.91,347.2" stroke="#1f77b4" stroke-width="1.3" fill="none"/>
<path d="M128.04,347.36L132.14,351.46M128.04,351.46L132.14,347.36" stroke="#1f77b4" stroke-width="1.3" fill="none"/>
<path d="M136.28,347.54L140.38,351.64M136.28,351.64L140.38,347.54" stroke="#1f77b4" stroke-width="1.3" fill="none"/>
<path d="M144.52,347.74L148.62,351.84M144.52,351.84L148.62,347.74" stroke="#1f77b4" stroke-width="1.3" fill="none"/>
<path d="M152.76,347.97L156.86,352.07M152.76,352.07L156.86,347.97" stroke="#1f77b4" stroke-width="1.3" fill="none"/>
<path d="M161,348.23L165.1,352.33M161,352.33L165.1,348.23" stroke="#1f77b4" stroke-width="1.3" fill="none"/>
<path d="M169.24,348.51L173.34,352.61M169.24,352.61L173.34,348.51" stroke="#1f77b4" stroke-width="1.3" fill="none"/>
<path d="M177.48,348.81L181.58,352.91M177.48,352.91L181.58,348.81" stroke="#1f77b4" stroke-width="1.3" fill="none"/>
<path d="M218.68,298.8L222.78,302.9M218.68,302.9L222.78,298.8" stroke="#1f77b4" stroke-width="1.3" fill="none"/>
<path d="M226.92,298.81L231.02,302.91M226.92,302.91L231.02,298.81" stroke="#1f77b4" stroke-width="1.3" fill="none"/>
<path d="M235.15,298.83L239.25,302.93M235.15,302.93L239.25,298.83" stroke="#1f77b4" stroke-width="1.3" fill="none"/>
<path d="M243.39,298.84L247.49,302.94M243.39,302.94L247.49,298.84" stroke="#1f77b4" stroke-width="1.3" fill="none"/>
<path d="M251.63,298.85L255.73,302.95M251.63,302.95L255.73,298.85" stroke="#1f77b4" stroke-width="1.3" fill="none"/>
<path d="M259.87,298.86L263.97,302.96M259.87,302.96L263.97,298.86" stroke="#1f77b4" stroke-width="1.3" fill="none"/>
<path d="M268.11,298.87L272.21,302.97M268.11,302.97L272.21,298.87" stroke="#1f77b4" stroke-width="1.3" fill="none"/>
<path d="M276.35,298.89L280.45,302.99M276.35,302.99L280.45,298.89" stroke="#1f77b4" stroke-width="1.3" fill="none"/>
<path d="M284.59,298.9L288.69,303M284.59,303L288.69,298.9" stroke="#1f77b4" stroke-width="1.3" fill="none"/>
<path d="M292.83,298.91L296.93,303.01M292.83,303.01L296.93,298.91" stroke="#1f77b4" stroke-width="1.3" fill="none"/>
<polyline points="69.6,348.8 73.42,348.8 77.24,348.81 81.05,348.82 84.87,348.83 88.69,348.85 92.51,348.88 96.33,348.91 100.15,348.94 103.96,348.99 107.78,349.03 111.6,349.08 115.42,349.14 119.24,349.2 123.05,349.27 126.87,349.34 130.69,349.42 134.51,349.5 138.33,349.59 142.15,349.68 145.96,349.78 149.78,349.88 153.6,349.99 157.42,350.1 161.24,350.22 165.05,350.34 168.87,350.47 172.69,350.61 176.51,350.75 180.33,350.89" fill="none" stroke="#0000ff" stroke-width="1.35" stroke-linejoin="round"/>
<polyline points="212.38,300.84 215.45,300.84 218.52,300.85 221.6,300.85 224.67,300.86 227.74,300.86 230.82,300.87 233.89,300.87 236.97,300.87 240.04,300.88 243.11,300.88 246.19,300.89 249.26,300.89 252.33,300.9 255.41,300.9 258.48,300.91 261.55,300.91 264.63,300.92 267.7,300.92 270.77,300.93 273.85,300.93 276.92,300.93 279.99,300.94 283.07,300.94 286.14,300.95 289.22,300.95 292.29,300.96 295.36,300.96 298.44,300.96 301.51,300.97" fill="none" stroke="#0000ff" stroke-width="1.35" stroke-linejoin="round"/>
<polygon points="72.42,369.47 72.92,371.02 74.55,371.02 73.23,371.97 73.74,373.52 72.42,372.56 71.1,373.52 71.61,371.97 70.29,371.02 71.92,371.02" fill="#ff7f0e" stroke="#ff7f0e" stroke-width="0.8" stroke-linejoin="miter"/>
<polygon points="80.66,369.5 81.16,371.05 82.79,371.05 81.47,372.01 81.98,373.56 80.66,372.6 79.34,373.56 79.85,372.01 78.53,371.05 80.16,371.05" fill="#ff7f0e" stroke="#ff7f0e" stroke-width="0.8" stroke-linejoin="miter"/>
<polygon points="88.9,369.58 89.4,371.13 91.03,371.13 89.71,372.08 90.21,373.63 88.9,372.67 87.58,373.63 88.08,372.08 86.77,371.13 88.4,371.13" fill="#ff7f0e" stroke="#ff7f0e" stroke-width="0.8" stroke-linejoin="miter"/>
<polygon points="97.14,369.69 97.64,371.24 99.27,371.24 97.95,372.2 98.45,373.74 97.14,372.79 95.82,373.74 96.32,372.2 95.01,371.24 96.63,371.24" fill="#ff7f0e" stroke="#ff7f0e" stroke-width="0.8" stroke-linejoin="miter"/>
<polygon points="105.38,369.84 105.88,371.39 107.51,371.39 106.19,372.35 106.69,373.89 105.38,372.94 104.06,373.89 104.56,372.35 103.25,371.39 104.87,371.39" fill="#ff7f0e" stroke="#ff7f0e" stroke-width="0.8" stroke-linejoin="miter"/>
<polygon points="113.62,370.03 114.12,371.58 115.75,371.58 114.43,372.54 114.93,374.08 113.62,373.13 112.3,374.08 112.8,372.54 111.49,371.58 113.11,371.58" fill="#ff7f0e" stroke="#ff7f0e" stroke-width="0.8" stroke-linejoin="miter"/>
<polygon points="121.86,370.26 122.36,371.81 123.99,371.81 122.67,372.76 123.17,374.31 121.86,373.35 120.54,374.31 121.04,372.76 119.73,371.81 121.35,371.81" fill="#ff7f0e" stroke="#ff7f0e" stroke-width="0.8" stroke-linejoin="miter"/>
<polygon points="130.09,370.52 130.6,372.07 132.22,372.07 130.91,373.03 131.41,374.58 130.09,373.62 128.78,374.58 129.28,373.03 127.96,372.07 129.59,372.07" fill="#ff7f0e" stroke="#ff7f0e" stroke-width="0.8" stroke-linejoin="miter"/>
<polygon points="138.33,370.83 138.84,372.37 140.46,372.37 139.15,373.33 139.65,374.88 138.33,373.92 137.02,374.88 137.52,373.33 136.2,372.37 137.83,372.37" fill="#ff7f0e" stroke="#ff7f0e" stroke-width="0.8" stroke-linejoin="miter"/>
<polygon points="146.57,371.17 147.08,372.72 148.7,372.72 147.39,373.67 147.89,375.22 146.57,374.26 145.26,375.22 145.76,373.67 144.44,372.72 146.07,372.72" fill="#ff7f0e" stroke="#ff7f0e" stroke-width="0.8" stroke-linejoin="miter"/>
<polygon points="154.81,371.55 155.32,373.1 156.94,373.1 155.63,374.05 156.13,375.6 154.81,374.64 153.5,375.6 154,374.05 152.68,373.1 154.31,373.1" fill="#ff7f0e" stroke="#ff7f0e" stroke-width="0.8" stroke-linejoin="miter"/>
<polygon points="163.05,371.96 163.55,373.51 165.18,373.51 163.87,374.47 164.37,376.02 163.05,375.06 161.74,376.02 162.24,374.47 160.92,373.51 162.55,373.51" fill="#ff7f0e" stroke="#ff7f0e" stroke-width="0.8" stroke-linejoin="miter"/>
<polygon points="171.29,372.42 171.79,373.97 173.42,373.97 172.1,374.92 172.61,376.47 171.29,375.52 169.97,376.47 170.48,374.92 169.16,373.97 170.79,373.97" fill="#ff7f0e" stroke="#ff7f0e" stroke-width="0.8" stroke-linejoin="miter"/>
<polygon points="179.53,372.91 180.03,374.46 181.66,374.46 180.34,375.42 180.85,376.97 179.53,376.01 178.21,376.97 178.72,375.42 177.4,374.46 179.03,374.46" fill="#ff7f0e" stroke="#ff7f0e" stroke-width="0.8" stroke-linejoin="miter"/>
<polygon points="220.73,269.35 221.23,270.9 222.86,270.9 221.54,271.86 222.04,273.4 220.73,272.45 219.41,273.4 219.91,271.86 218.6,270.9 220.22,270.9" fill="#ff7f0e" stroke="#ff7f0e" stroke-width="0.8" stroke-linejoin="miter"/>
<polygon points="228.97,269.89 229.47,271.44 231.1,271.44 229.78,272.39 230.28,273.94 228.97,272.98 227.65,273.94 228.15,272.39 226.84,271.44 228.46,271.44" fill="#ff7f0e" stroke="#ff7f0e" stroke-width="0.8" stroke-linejoin="miter"/>
<polygon points="237.2,270.37 237.71,271.92 239.33,271.92 238.02,272.88 238.52,274.42 237.2,273.47 235.89,274.42 236.39,272.88 235.07,271.92 236.7,271.92" fill="#ff7f0e" stroke="#ff7f0e" stroke-width="0.8" stroke-linejoin="miter"/>
<polygon points="245.44,270.81 245.95,272.36 247.57,272.36 246.26,273.31 246.76,274.86 245.44,273.9 244.13,274.86 244.63,273.31 243.31,272.36 244.94,272.36" fill="#ff7f0e" stroke="#ff7f0e" stroke-width="0.8" stroke-linejoin="miter"/>
<polygon points="253.68,271.2 254.19,272.74 255.81,272.74 254.5,273.7 255,275.25 253.68,274.29 252.37,275.25 252.87,273.7 251.55,272.74 253.18,272.74" fill="#ff7f0e" stroke="#ff7f0e" stroke-width="0.8" stroke-linejoin="miter"/>
<polygon points="261.92,271.53 262.43,273.08 264.05,273.08 262.74,274.04 263.24,275.58 261.92,274.63 260.61,275.58 261.11,274.04 259.79,273.08 261.42,273.08" fill="#ff7f0e" stroke="#ff7f0e" stroke-width="0.8" stroke-linejoin="miter"/>
<polygon points="270.16,271.82 270.66,273.37 272.29,273.37 270.98,274.32 271.48,275.87 270.16,274.91 268.85,275.87 269.35,274.32 268.03,273.37 269.66,273.37" fill="#ff7f0e" stroke="#ff7f0e" stroke-width="0.8" stroke-linejoin="miter"/>
<polygon points="278.4,272.06 278.9,273.6 280.53,273.6 279.21,274.56 279.72,276.11 278.4,275.15 277.08,276.11 277.59,274.56 276.27,273.6 277.9,273.6" fill="#ff7f0e" stroke="#ff7f0e" stroke-width="0.8" stroke-linejoin="miter"/>
<polygon points="286.64,272.24 287.14,273.79 288.77,273.79 287.45,274.75 287.96,276.3 286.64,275.34 285.32,276.3 285.83,274.75 284.51,273.79 286.14,273.79" fill="#ff7f0e" stroke="#ff7f0e" stroke-width="0.8" stroke-linejoin="miter"/>
<polygon points="294.88,272.38 295.38,273.93 297.01,273.93 295.69,274.89 296.2,276.43 294.88,275.48 293.56,276.43 294.07,274.89 292.75,273.93 294.38,273.93" fill="#ff7f0e" stroke="#ff7f0e" stroke-width="0.8" stroke-linejoin="miter"/>
<polyline points="69.6,371.7 73.42,371.71 77.24,371.72 81.05,371.75 84.87,371.78 88.69,371.82 92.51,371.86 96.33,371.92 100.15,371.98 103.96,372.05 107.78,372.13 111.6,372.22 115.42,372.32 119.24,372.42 123.05,372.53 126.87,372.66 130.69,372.78 134.51,372.92 138.33,373.07 142.15,373.22 145.96,373.38 149.78,373.55 153.6,373.73 157.42,373.92 161.24,374.11 165.05,374.31 168.87,374.52 172.69,374.74 176.51,374.97 180.33,375.2" fill="none" stroke="#ff0000" stroke-width="1.35" stroke-linejoin="round"/>
<polyline points="212.38,271 215.45,271.22 218.52,271.44 221.6,271.65 224.67,271.85 227.74,272.05 230.82,272.24 233.89,272.42 236.97,272.6 240.04,272.77 243.11,272.93 246.19,273.09 249.26,273.23 252.33,273.37 255.41,273.51 258.48,273.64 261.55,273.76 264.63,273.87 267.7,273.98 270.77,274.08 273.85,274.17 276.92,274.26 279.99,274.34 283.07,274.41 286.14,274.47 289.22,274.53 292.29,274.58 295.36,274.63 298.44,274.67 301.51,274.7" fill="none" stroke="#ff0000" stroke-width="1.35" stroke-linejoin="round"/>
<polygon points="72.42,394.55 70.37,398.65 74.47,398.65" fill="#2ca02c" stroke="#2ca02c" stroke-width="0.8" stroke-linejoin="miter"/>
<polygon points="80.66,394.56 78.61,398.66 82.71,398.66" fill="#2ca02c" stroke="#2ca02c" stroke-width="0.8" stroke-linejoin="miter"/>
<polygon points="88.9,394.56 86.85,398.66 90.95,398.66" fill="#2ca02c" stroke="#2ca02c" stroke-width="0.8" stroke-linejoin="miter"/>
<polygon points="97.14,394.57 95.09,398.67 99.19,398.67" fill="#2ca02c" stroke="#2ca02c" stroke-width="0.8" stroke-linejoin="miter"/>
<polygon points="105.38,394.58 103.33,398.68 107.43,398.68" fill="#2ca02c" stroke="#2ca02c" stroke-width="0.8" stroke-linejoin="miter"/>
<polygon points="113.62,394.6 111.57,398.7 115.67,398.7" fill="#2ca02c" stroke="#2ca02c" stroke-width="0.8" stroke-linejoin="miter"/>
<polygon points="121.86,394.61 119.81,398.71 123.91,398.71" fill="#2ca02c" stroke="#2ca02c" stroke-width="0.8" stroke-linejoin="miter"/>
<polygon points="130.09,394.62 128.04,398.72 132.14,398.72" fill="#2ca02c" stroke="#2ca02c" stroke-width="0.8" stroke-linejoin="miter"/>
<polygon points="138.33,394.64 136.28,398.74 140.38,398.74" fill="#2ca02c" stroke="#2ca02c" stroke-width="0.8" stroke-linejoin="miter"/>
<polygon points="146.57,394.66 144.52,398.76 148.62,398.76" fill="#2ca02c" stroke="#2ca02c" stroke-width="0.8" stroke-linejoin="miter"/>
<polygon points="154.81,394.68 152.76,398.78 156.86,398.78" fill="#2ca02c" stroke="#2ca02c" stroke-width="0.8" stroke-linejoin="miter"/>
<polygon points="163.05,394.7 161,398.8 165.1,398.8" fill="#2ca02c" stroke="#2ca02c" stroke-width="0.8" stroke-linejoin="miter"/>
<polygon points="171.29,394.72 169.24,398.82 173.34,398.82" fill="#2ca02c" stroke="#2ca02c" stroke-width="0.8" stroke-linejoin="miter"/>
<polygon points="179.53,394.74 177.48,398.84 181.58,398.84" fill="#2ca02c" stroke="#2ca02c" stroke-width="0.8" stroke-linejoin="miter"/>
<polygon points="220.73,244.55 218.68,248.65 222.78,248.65" fill="#2ca02c" stroke="#2ca02c" stroke-width="0.8" stroke-linejoin="miter"/>
<polygon points="228.97,244.55 226.92,248.65 231.02,248.65" fill="#2ca02c" stroke="#2ca02c" stroke-width="0.8" stroke-linejoin="miter"/>
<polygon points="237.2,244.55 235.15,248.65 239.25,248.65" fill="#2ca02c" stroke="#2ca02c" stroke-width="0.8" stroke-linejoin="miter"/>
<polygon points="245.44,244.55 243.39,248.65 247.49,248.65" fill="#2ca02c" stroke="#2ca02c" stroke-width="0.8" stroke-linejoin="miter"/>
<polygon points="253.68,244.55 251.63,248.65 255.73,248.65" fill="#2ca02c" stroke="#2ca02c" stroke-width="0.8" stroke-linejoin="miter"/>
<polygon points="261.92,244.55 259.87,248.65 263.97,248.65" fill="#2ca02c" stroke="#2ca02c" stroke-width="0.8" stroke-linejoin="miter"/>
<polygon points="270.16,244.55 268.11,248.65 272.21,248.65" fill="#2ca02c" stroke="#2ca02c" stroke-width="0.8" stroke-linejoin="miter"/>
<polygon points="278.4,244.55 276.35,248.65 280.45,248.65" fill="#2ca02c" stroke="#2ca02c" stroke-width="0.8" stroke-linejoin="miter"/>
<polygon points="286.64,244.55 284.59,248.65 288.69,248.65" fill="#2ca02c" stroke="#2ca02c" stroke-width="0.8" stroke-linejoin="miter"/>
<polygon points="294.88,244.55 292.83,248.65 296.93,248.65" fill="#2ca02c" stroke="#2ca02c" stroke-width="0.8" stroke-linejoin="miter"/>
<polyline points="69.6,396.6 73.42,396.6 77.24,396.6 81.05,396.61 84.87,396.61 88.69,396.61 92.51,396.62 96.33,396.62 100.15,396.63 103.96,396.63 107.78,396.64 111.6,396.64 115.42,396.65 119.24,396.66 123.05,396.66 126.87,396.67 130.69,396.68 134.51,396.68 138.33,396.69 142.15,396.7 145.96,396.71 149.78,396.72 153.6,396.73 157.42,396.73 161.24,396.74 165.05,396.75 168.87,396.76 172.69,396.78 176.51,396.79 180.33,396.8" fill="none" stroke="#008000" stroke-width="1.35" stroke-linejoin="round"/>
<polyline points="212.38,246.6 215.45,246.6 218.52,246.6 221.6,246.6 224.67,246.6 227.74,246.6 230.82,246.6 233.89,246.6 236.97,246.6 240.04,246.6 243.11,246.6 246.19,246.6 249.26,246.6 252.33,246.6 255.41,246.6 258.48,246.6 261.55,246.6 264.63,246.6 267.7,246.6 270.77,246.6 273.85,246.6 276.92,246.6 279.99,246.6 283.07,246.6 286.14,246.6 289.22,246.6 292.29,246.6 295.36,246.6 298.44,246.6 301.51,246.6" fill="none" stroke="#008000" stroke-width="1.35" stroke-linejoin="round"/>
<rect x="58.1" y="238.8" width="254.4" height="165.3" fill="none" stroke="#444444" stroke-width="1.0"/>
<line x1="69.6" y1="404.1" x2="69.6" y2="406.7" stroke="#444444" stroke-width="0.8"/>
<text x="69.6" y="415.55" font-size="7.57" text-anchor="middle" fill="#1a1a1a" >0</text>
<line x1="103.99" y1="404.1" x2="103.99" y2="406.7" stroke="#444444" stroke-width="0.8"/>
<text x="103.99" y="415.55" font-size="7.57" text-anchor="middle" fill="#1a1a1a" >25</text>
<line x1="138.38" y1="404.1" x2="138.38" y2="406.7" stroke="#444444" stroke-width="0.8"/>
<text x="138.38" y="415.55" font-size="7.57" text-anchor="middle" fill="#1a1a1a" >50</text>
<line x1="172.76" y1="404.1" x2="172.76" y2="406.7" stroke="#444444" stroke-width="0.8"/>
<text x="172.76" y="415.55" font-size="7.57" text-anchor="middle" fill="#1a1a1a" >75</text>
<line x1="207.15" y1="404.1" x2="207.15" y2="406.7" stroke="#444444" stroke-width="0.8"/>
<text x="207.15" y="415.55" font-size="7.57" text-anchor="middle" fill="#1a1a1a" >100</text>
<line x1="241.54" y1="404.1" x2="241.54" y2="406.7" stroke="#444444" stroke-width="0.8"/>
<text x="241.54" y="415.55" font-size="7.57" text-anchor="middle" fill="#1a1a1a" >125</text>
<line x1="275.92" y1="404.1" x2="275.92" y2="406.7" stroke="#444444" stroke-width="0.8"/>
<text x="275.92" y="415.55" font-size="7.57" text-anchor="middle" fill="#1a1a1a" >150</text>
<line x1="310.31" y1="404.1" x2="310.31" y2="406.7" stroke="#444444" stroke-width="0.8"/>
<text x="310.31" y="415.55" font-size="7.57" text-anchor="middle" fill="#1a1a1a" >175</text>
<line x1="55.5" y1="379.98" x2="58.1" y2="379.98" stroke="#444444" stroke-width="0.8"/>
<text x="52.4" y="382.86" font-size="7.57" text-anchor="end" fill="#1a1a1a" >10000</text>
<line x1="55.5" y1="346.81" x2="58.1" y2="346.81" stroke="#444444" stroke-width="0.8"/>
<text x="52.4" y="349.69" font-size="7.57" text-anchor="end" fill="#1a1a1a" >20000</text>
<line x1="55.5" y1="313.64" x2="58.1" y2="313.64" stroke="#444444" stroke-width="0.8"/>
<text x="52.4" y="316.52" font-size="7.57" text-anchor="end" fill="#1a1a1a" >30000</text>
<line x1="55.5" y1="280.47" x2="58.1" y2="280.47" stroke="#444444" stroke-width="0.8"/>
<text x="52.4" y="283.35" font-size="7.57" text-anchor="end" fill="#1a1a1a" >40000</text>
<line x1="55.5" y1="247.3" x2="58.1" y2="247.3" stroke="#444444" stroke-width="0.8"/>
<text x="52.4" y="250.18" font-size="7.57" text-anchor="end" fill="#1a1a1a" >50000</text>
<text x="185.3" y="427.5" font-size="10.6" text-anchor="middle" fill="#1a1a1a" >Cell thickness [<tspan font-style="italic">μ</tspan>m]</text>
<text transform="translate(22.5,320.65) rotate(-90)" font-size="10.68" text-anchor="middle" fill="#1a1a1a">Electrode average conc. [mol/<tspan font-style="italic">m</tspan><tspan font-size="7.42" dy="-4">3</tspan><tspan dy="4">]</tspan></text>
<rect x="61.6" y="242.5" width="102.7" height="69.1" rx="1.5" ry="1.5" fill="#ffffff" fill-opacity="0.8" stroke="#cccccc" stroke-width="0.7"/>
<line x1="64" y1="248.8" x2="80.4" y2="248.8" stroke="#0000ff" stroke-width="1.35"/>
<text x="86.2" y="251.53" font-size="7.57" text-anchor="start" fill="#1a1a1a" >COMSOL 1200 s</text>
<line x1="64" y1="259.9" x2="80.4" y2="259.9" stroke="#ff0000" stroke-width="1.35"/>
<text x="86.2" y="262.63" font-size="7.57" text-anchor="start" fill="#1a1a1a" >COMSOL 2400 s</text>
<line x1="64" y1="271" x2="80.4" y2="271" stroke="#008000" stroke-width="1.35"/>
<text x="86.2" y="273.73" font-size="7.57" text-anchor="start" fill="#1a1a1a" >COMSOL 3600 s</text>
<path d="M69.65,280.35L74.75,285.45M69.65,285.45L74.75,280.35" stroke="#1f77b4" stroke-width="1.25" fill="none"/>
<text x="86.2" y="285.63" font-size="7.57" text-anchor="start" fill="#1a1a1a" >batP2dFoam 1200 s</text>
<polygon points="72.2,291.07 72.86,293.09 74.99,293.09 73.27,294.35 73.92,296.37 72.2,295.12 70.48,296.37 71.13,294.35 69.41,293.09 71.54,293.09" fill="#ff7f0e" stroke="#ff7f0e" stroke-width="0.8" stroke-linejoin="miter"/>
<text x="86.2" y="296.73" font-size="7.57" text-anchor="start" fill="#1a1a1a" >batP2dFoam 2400 s</text>
<polygon points="72.2,302.55 69.65,307.65 74.75,307.65" fill="#2ca02c" stroke="#2ca02c" stroke-width="0.8" stroke-linejoin="miter"/>
<text x="86.2" y="307.83" font-size="7.57" text-anchor="start" fill="#1a1a1a" >batP2dFoam 3600 s</text>
</g>
<text x="165.28" y="456.2" letter-spacing="0.35" text-anchor="middle" fill="#111" stroke="none" style="stroke:none;font-family:'Liberation Serif','DejaVu Serif',serif" font-size="17">(<tspan font-weight="bold">c</tspan>)</text>
<g id="pd">
<path d="M380.24,314.65L384.34,318.75M380.24,318.75L384.34,314.65" stroke="#1f77b4" stroke-width="1.3" fill="none"/>
<path d="M388.4,314.68L392.5,318.78M388.4,318.78L392.5,314.68" stroke="#1f77b4" stroke-width="1.3" fill="none"/>
<path d="M396.56,314.74L400.66,318.84M396.56,318.84L400.66,314.74" stroke="#1f77b4" stroke-width="1.3" fill="none"/>
<path d="M404.72,314.83L408.82,318.93M404.72,318.93L408.82,314.83" stroke="#1f77b4" stroke-width="1.3" fill="none"/>
<path d="M412.88,314.95L416.98,319.05M412.88,319.05L416.98,314.95" stroke="#1f77b4" stroke-width="1.3" fill="none"/>
<path d="M421.03,315.1L425.13,319.2M421.03,319.2L425.13,315.1" stroke="#1f77b4" stroke-width="1.3" fill="none"/>
<path d="M429.19,315.28L433.29,319.38M429.19,319.38L433.29,315.28" stroke="#1f77b4" stroke-width="1.3" fill="none"/>
<path d="M437.35,315.49L441.45,319.59M437.35,319.59L441.45,315.49" stroke="#1f77b4" stroke-width="1.3" fill="none"/>
<path d="M445.51,315.73L449.61,319.83M445.51,319.83L449.61,315.73" stroke="#1f77b4" stroke-width="1.3" fill="none"/>
<path d="M453.67,316L457.77,320.1M453.67,320.1L457.77,316" stroke="#1f77b4" stroke-width="1.3" fill="none"/>
<path d="M461.83,316.3L465.93,320.4M461.83,320.4L465.93,316.3" stroke="#1f77b4" stroke-width="1.3" fill="none"/>
<path d="M469.98,316.63L474.08,320.73M469.98,320.73L474.08,316.63" stroke="#1f77b4" stroke-width="1.3" fill="none"/>
<path d="M478.14,316.99L482.24,321.09M478.14,321.09L482.24,316.99" stroke="#1f77b4" stroke-width="1.3" fill="none"/>
<path d="M486.3,317.39L490.4,321.49M486.3,321.49L490.4,317.39" stroke="#1f77b4" stroke-width="1.3" fill="none"/>
<path d="M527.09,300.99L531.19,305.09M527.09,305.09L531.19,300.99" stroke="#1f77b4" stroke-width="1.3" fill="none"/>
<path d="M535.25,301.03L539.35,305.13M535.25,305.13L539.35,301.03" stroke="#1f77b4" stroke-width="1.3" fill="none"/>
<path d="M543.41,301.07L547.51,305.17M543.41,305.17L547.51,301.07" stroke="#1f77b4" stroke-width="1.3" fill="none"/>
<path d="M551.57,301.09L555.67,305.19M551.57,305.19L555.67,301.09" stroke="#1f77b4" stroke-width="1.3" fill="none"/>
<path d="M559.73,301.11L563.83,305.21M559.73,305.21L563.83,301.11" stroke="#1f77b4" stroke-width="1.3" fill="none"/>
<path d="M567.88,301.13L571.98,305.23M567.88,305.23L571.98,301.13" stroke="#1f77b4" stroke-width="1.3" fill="none"/>
<path d="M576.04,301.14L580.14,305.24M576.04,305.24L580.14,301.14" stroke="#1f77b4" stroke-width="1.3" fill="none"/>
<path d="M584.2,301.14L588.3,305.24M584.2,305.24L588.3,301.14" stroke="#1f77b4" stroke-width="1.3" fill="none"/>
<path d="M592.36,301.14L596.46,305.24M592.36,305.24L596.46,301.14" stroke="#1f77b4" stroke-width="1.3" fill="none"/>
<path d="M600.52,301.13L604.62,305.23M600.52,305.23L604.62,301.13" stroke="#1f77b4" stroke-width="1.3" fill="none"/>
<polyline points="379.5,316.7 383.28,316.7 387.06,316.72 390.84,316.73 394.62,316.76 398.4,316.79 402.18,316.82 405.97,316.87 409.75,316.92 413.53,316.97 417.31,317.04 421.09,317.11 424.87,317.18 428.65,317.27 432.43,317.36 436.21,317.45 439.99,317.55 443.77,317.66 447.55,317.78 451.33,317.9 455.11,318.03 458.9,318.16 462.68,318.3 466.46,318.45 470.24,318.61 474.02,318.77 477.8,318.93 481.58,319.11 485.36,319.29 489.14,319.48" fill="none" stroke="#0000ff" stroke-width="1.35" stroke-linejoin="round"/>
<polyline points="520.88,303 523.92,303.01 526.96,303.03 530.01,303.05 533.05,303.06 536.09,303.08 539.14,303.09 542.18,303.1 545.22,303.11 548.27,303.13 551.31,303.14 554.35,303.14 557.4,303.15 560.44,303.16 563.48,303.17 566.53,303.17 569.57,303.18 572.61,303.18 575.66,303.19 578.7,303.19 581.74,303.19 584.79,303.19 587.83,303.19 590.87,303.19 593.92,303.19 596.96,303.19 600,303.18 603.05,303.18 606.09,303.17 609.13,303.17" fill="none" stroke="#0000ff" stroke-width="1.35" stroke-linejoin="round"/>
<polygon points="382.29,353.15 382.79,354.7 384.42,354.7 383.11,355.65 383.61,357.2 382.29,356.25 380.98,357.2 381.48,355.65 380.16,354.7 381.79,354.7" fill="#ff7f0e" stroke="#ff7f0e" stroke-width="0.8" stroke-linejoin="miter"/>
<polygon points="390.45,353.19 390.95,354.74 392.58,354.74 391.26,355.7 391.77,357.24 390.45,356.29 389.13,357.24 389.64,355.7 388.32,354.74 389.95,354.74" fill="#ff7f0e" stroke="#ff7f0e" stroke-width="0.8" stroke-linejoin="miter"/>
<polygon points="398.61,353.3 399.11,354.85 400.74,354.85 399.42,355.8 399.93,357.35 398.61,356.4 397.29,357.35 397.8,355.8 396.48,354.85 398.11,354.85" fill="#ff7f0e" stroke="#ff7f0e" stroke-width="0.8" stroke-linejoin="miter"/>
<polygon points="406.77,353.48 407.27,355.02 408.9,355.02 407.58,355.98 408.08,357.53 406.77,356.57 405.45,357.53 405.95,355.98 404.64,355.02 406.26,355.02" fill="#ff7f0e" stroke="#ff7f0e" stroke-width="0.8" stroke-linejoin="miter"/>
<polygon points="414.93,353.72 415.43,355.26 417.06,355.26 415.74,356.22 416.24,357.77 414.93,356.81 413.61,357.77 414.11,356.22 412.8,355.26 414.42,355.26" fill="#ff7f0e" stroke="#ff7f0e" stroke-width="0.8" stroke-linejoin="miter"/>
<polygon points="423.08,354.02 423.59,355.57 425.21,355.57 423.9,356.53 424.4,358.08 423.08,357.12 421.77,358.08 422.27,356.53 420.95,355.57 422.58,355.57" fill="#ff7f0e" stroke="#ff7f0e" stroke-width="0.8" stroke-linejoin="miter"/>
<polygon points="431.24,354.4 431.75,355.95 433.37,355.95 432.06,356.9 432.56,358.45 431.24,357.49 429.93,358.45 430.43,356.9 429.11,355.95 430.74,355.95" fill="#ff7f0e" stroke="#ff7f0e" stroke-width="0.8" stroke-linejoin="miter"/>
<polygon points="439.4,354.84 439.9,356.39 441.53,356.39 440.21,357.34 440.72,358.89 439.4,357.93 438.08,358.89 438.59,357.34 437.27,356.39 438.9,356.39" fill="#ff7f0e" stroke="#ff7f0e" stroke-width="0.8" stroke-linejoin="miter"/>
<polygon points="447.56,355.35 448.06,356.89 449.69,356.89 448.37,357.85 448.88,359.4 447.56,358.44 446.24,359.4 446.75,357.85 445.43,356.89 447.06,356.89" fill="#ff7f0e" stroke="#ff7f0e" stroke-width="0.8" stroke-linejoin="miter"/>
<polygon points="455.72,355.92 456.22,357.47 457.85,357.47 456.53,358.42 457.03,359.97 455.72,359.01 454.4,359.97 454.9,358.42 453.59,357.47 455.21,357.47" fill="#ff7f0e" stroke="#ff7f0e" stroke-width="0.8" stroke-linejoin="miter"/>
<polygon points="463.88,356.56 464.38,358.11 466.01,358.11 464.69,359.06 465.19,360.61 463.88,359.65 462.56,360.61 463.06,359.06 461.75,358.11 463.37,358.11" fill="#ff7f0e" stroke="#ff7f0e" stroke-width="0.8" stroke-linejoin="miter"/>
<polygon points="472.03,357.27 472.54,358.81 474.16,358.81 472.85,359.77 473.35,361.32 472.03,360.36 470.72,361.32 471.22,359.77 469.9,358.81 471.53,358.81" fill="#ff7f0e" stroke="#ff7f0e" stroke-width="0.8" stroke-linejoin="miter"/>
<polygon points="480.19,358.04 480.7,359.59 482.32,359.59 481.01,360.54 481.51,362.09 480.19,361.13 478.88,362.09 479.38,360.54 478.06,359.59 479.69,359.59" fill="#ff7f0e" stroke="#ff7f0e" stroke-width="0.8" stroke-linejoin="miter"/>
<polygon points="488.35,358.88 488.85,360.43 490.48,360.43 489.16,361.38 489.67,362.93 488.35,361.97 487.03,362.93 487.54,361.38 486.22,360.43 487.85,360.43" fill="#ff7f0e" stroke="#ff7f0e" stroke-width="0.8" stroke-linejoin="miter"/>
<polygon points="529.14,271.37 529.65,272.91 531.27,272.91 529.96,273.87 530.46,275.42 529.14,274.46 527.83,275.42 528.33,273.87 527.01,272.91 528.64,272.91" fill="#ff7f0e" stroke="#ff7f0e" stroke-width="0.8" stroke-linejoin="miter"/>
<polygon points="537.3,271.91 537.8,273.46 539.43,273.46 538.11,274.41 538.62,275.96 537.3,275 535.98,275.96 536.49,274.41 535.17,273.46 536.8,273.46" fill="#ff7f0e" stroke="#ff7f0e" stroke-width="0.8" stroke-linejoin="miter"/>
<polygon points="545.46,272.41 545.96,273.95 547.59,273.95 546.27,274.91 546.78,276.46 545.46,275.5 544.14,276.46 544.65,274.91 543.33,273.95 544.96,273.95" fill="#ff7f0e" stroke="#ff7f0e" stroke-width="0.8" stroke-linejoin="miter"/>
<polygon points="553.62,272.86 554.12,274.41 555.75,274.41 554.43,275.36 554.93,276.91 553.62,275.95 552.3,276.91 552.8,275.36 551.49,274.41 553.12,274.41" fill="#ff7f0e" stroke="#ff7f0e" stroke-width="0.8" stroke-linejoin="miter"/>
<polygon points="561.78,273.27 562.28,274.81 563.91,274.81 562.59,275.77 563.09,277.32 561.78,276.36 560.46,277.32 560.96,275.77 559.65,274.81 561.27,274.81" fill="#ff7f0e" stroke="#ff7f0e" stroke-width="0.8" stroke-linejoin="miter"/>
<polygon points="569.93,273.63 570.44,275.18 572.06,275.18 570.75,276.13 571.25,277.68 569.93,276.72 568.62,277.68 569.12,276.13 567.8,275.18 569.43,275.18" fill="#ff7f0e" stroke="#ff7f0e" stroke-width="0.8" stroke-linejoin="miter"/>
<polygon points="578.09,273.94 578.6,275.49 580.22,275.49 578.91,276.45 579.41,278 578.09,277.04 576.78,278 577.28,276.45 575.96,275.49 577.59,275.49" fill="#ff7f0e" stroke="#ff7f0e" stroke-width="0.8" stroke-linejoin="miter"/>
<polygon points="586.25,274.22 586.75,275.76 588.38,275.76 587.07,276.72 587.57,278.27 586.25,277.31 584.94,278.27 585.44,276.72 584.12,275.76 585.75,275.76" fill="#ff7f0e" stroke="#ff7f0e" stroke-width="0.8" stroke-linejoin="miter"/>
<polygon points="594.41,274.44 594.91,275.99 596.54,275.99 595.22,276.94 595.73,278.49 594.41,277.54 593.09,278.49 593.6,276.94 592.28,275.99 593.91,275.99" fill="#ff7f0e" stroke="#ff7f0e" stroke-width="0.8" stroke-linejoin="miter"/>
<polygon points="602.57,274.62 603.07,276.17 604.7,276.17 603.38,277.12 603.88,278.67 602.57,277.72 601.25,278.67 601.75,277.12 600.44,276.17 602.07,276.17" fill="#ff7f0e" stroke="#ff7f0e" stroke-width="0.8" stroke-linejoin="miter"/>
<polyline points="379.5,355.39 383.28,355.39 387.06,355.41 390.84,355.44 394.62,355.48 398.4,355.54 402.18,355.61 405.97,355.69 409.75,355.8 413.53,355.91 417.31,356.04 421.09,356.18 424.87,356.34 428.65,356.51 432.43,356.7 436.21,356.9 439.99,357.11 443.77,357.34 447.55,357.59 451.33,357.84 455.11,358.11 458.9,358.4 462.68,358.7 466.46,359.02 470.24,359.34 474.02,359.69 477.8,360.04 481.58,360.42 485.36,360.8 489.14,361.2" fill="none" stroke="#ff0000" stroke-width="1.35" stroke-linejoin="round"/>
<polyline points="520.88,273.01 523.92,273.23 526.96,273.45 530.01,273.67 533.05,273.87 536.09,274.07 539.14,274.26 542.18,274.45 545.22,274.63 548.27,274.81 551.31,274.98 554.35,275.14 557.4,275.29 560.44,275.44 563.48,275.59 566.53,275.72 569.57,275.85 572.61,275.98 575.66,276.09 578.7,276.21 581.74,276.31 584.79,276.41 587.83,276.5 590.87,276.59 593.92,276.67 596.96,276.74 600,276.81 603.05,276.87 606.09,276.92 609.13,276.97" fill="none" stroke="#ff0000" stroke-width="1.35" stroke-linejoin="round"/>
<polygon points="382.29,395.07 380.24,399.17 384.34,399.17" fill="#2ca02c" stroke="#2ca02c" stroke-width="0.8" stroke-linejoin="miter"/>
<polygon points="390.45,395.07 388.4,399.17 392.5,399.17" fill="#2ca02c" stroke="#2ca02c" stroke-width="0.8" stroke-linejoin="miter"/>
<polygon points="398.61,395.07 396.56,399.17 400.66,399.17" fill="#2ca02c" stroke="#2ca02c" stroke-width="0.8" stroke-linejoin="miter"/>
<polygon points="406.77,395.07 404.72,399.17 408.82,399.17" fill="#2ca02c" stroke="#2ca02c" stroke-width="0.8" stroke-linejoin="miter"/>
<polygon points="414.93,395.07 412.88,399.17 416.98,399.17" fill="#2ca02c" stroke="#2ca02c" stroke-width="0.8" stroke-linejoin="miter"/>
<polygon points="423.08,395.07 421.03,399.17 425.13,399.17" fill="#2ca02c" stroke="#2ca02c" stroke-width="0.8" stroke-linejoin="miter"/>
<polygon points="431.24,395.07 429.19,399.17 433.29,399.17" fill="#2ca02c" stroke="#2ca02c" stroke-width="0.8" stroke-linejoin="miter"/>
<polygon points="439.4,395.07 437.35,399.17 441.45,399.17" fill="#2ca02c" stroke="#2ca02c" stroke-width="0.8" stroke-linejoin="miter"/>
<polygon points="447.56,395.07 445.51,399.17 449.61,399.17" fill="#2ca02c" stroke="#2ca02c" stroke-width="0.8" stroke-linejoin="miter"/>
<polygon points="455.72,395.07 453.67,399.17 457.77,399.17" fill="#2ca02c" stroke="#2ca02c" stroke-width="0.8" stroke-linejoin="miter"/>
<polygon points="463.88,395.07 461.83,399.17 465.93,399.17" fill="#2ca02c" stroke="#2ca02c" stroke-width="0.8" stroke-linejoin="miter"/>
<polygon points="472.03,395.07 469.98,399.17 474.08,399.17" fill="#2ca02c" stroke="#2ca02c" stroke-width="0.8" stroke-linejoin="miter"/>
<polygon points="480.19,395.07 478.14,399.17 482.24,399.17" fill="#2ca02c" stroke="#2ca02c" stroke-width="0.8" stroke-linejoin="miter"/>
<polygon points="488.35,395.07 486.3,399.17 490.4,399.17" fill="#2ca02c" stroke="#2ca02c" stroke-width="0.8" stroke-linejoin="miter"/>
<polygon points="529.14,246.29 527.09,250.39 531.19,250.39" fill="#2ca02c" stroke="#2ca02c" stroke-width="0.8" stroke-linejoin="miter"/>
<polygon points="537.3,246.29 535.25,250.39 539.35,250.39" fill="#2ca02c" stroke="#2ca02c" stroke-width="0.8" stroke-linejoin="miter"/>
<polygon points="545.46,246.29 543.41,250.39 547.51,250.39" fill="#2ca02c" stroke="#2ca02c" stroke-width="0.8" stroke-linejoin="miter"/>
<polygon points="553.62,246.29 551.57,250.39 555.67,250.39" fill="#2ca02c" stroke="#2ca02c" stroke-width="0.8" stroke-linejoin="miter"/>
<polygon points="561.78,246.29 559.73,250.39 563.83,250.39" fill="#2ca02c" stroke="#2ca02c" stroke-width="0.8" stroke-linejoin="miter"/>
<polygon points="569.93,246.29 567.88,250.39 571.98,250.39" fill="#2ca02c" stroke="#2ca02c" stroke-width="0.8" stroke-linejoin="miter"/>
<polygon points="578.09,246.29 576.04,250.39 580.14,250.39" fill="#2ca02c" stroke="#2ca02c" stroke-width="0.8" stroke-linejoin="miter"/>
<polygon points="586.25,246.29 584.2,250.39 588.3,250.39" fill="#2ca02c" stroke="#2ca02c" stroke-width="0.8" stroke-linejoin="miter"/>
<polygon points="594.41,246.29 592.36,250.39 596.46,250.39" fill="#2ca02c" stroke="#2ca02c" stroke-width="0.8" stroke-linejoin="miter"/>
<polygon points="602.57,246.29 600.52,250.39 604.62,250.39" fill="#2ca02c" stroke="#2ca02c" stroke-width="0.8" stroke-linejoin="miter"/>
<polyline points="379.5,397.12 383.28,397.12 387.06,397.12 390.84,397.12 394.62,397.12 398.4,397.12 402.18,397.12 405.97,397.12 409.75,397.12 413.53,397.12 417.31,397.12 421.09,397.12 424.87,397.12 428.65,397.12 432.43,397.12 436.21,397.12 439.99,397.12 443.77,397.12 447.55,397.12 451.33,397.12 455.11,397.12 458.9,397.12 462.68,397.12 466.46,397.12 470.24,397.12 474.02,397.12 477.8,397.12 481.58,397.12 485.36,397.12 489.14,397.12" fill="none" stroke="#008000" stroke-width="1.35" stroke-linejoin="round"/>
<polyline points="520.88,248.34 523.92,248.34 526.96,248.34 530.01,248.34 533.05,248.34 536.09,248.34 539.14,248.34 542.18,248.34 545.22,248.34 548.27,248.34 551.31,248.34 554.35,248.34 557.4,248.34 560.44,248.34 563.48,248.34 566.53,248.34 569.57,248.34 572.61,248.34 575.66,248.34 578.7,248.34 581.74,248.34 584.79,248.34 587.83,248.34 590.87,248.34 593.92,248.34 596.96,248.34 600,248.34 603.05,248.34 606.09,248.34 609.13,248.34" fill="none" stroke="#008000" stroke-width="1.35" stroke-linejoin="round"/>
<rect x="368.5" y="240.7" width="251.4" height="163.7" fill="none" stroke="#444444" stroke-width="1.0"/>
<line x1="379.5" y1="404.4" x2="379.5" y2="407" stroke="#444444" stroke-width="0.8"/>
<text x="379.5" y="415.81" font-size="7.51" text-anchor="middle" fill="#1a1a1a" >0</text>
<line x1="413.55" y1="404.4" x2="413.55" y2="407" stroke="#444444" stroke-width="0.8"/>
<text x="413.55" y="415.81" font-size="7.51" text-anchor="middle" fill="#1a1a1a" >25</text>
<line x1="447.6" y1="404.4" x2="447.6" y2="407" stroke="#444444" stroke-width="0.8"/>
<text x="447.6" y="415.81" font-size="7.51" text-anchor="middle" fill="#1a1a1a" >50</text>
<line x1="481.65" y1="404.4" x2="481.65" y2="407" stroke="#444444" stroke-width="0.8"/>
<text x="481.65" y="415.81" font-size="7.51" text-anchor="middle" fill="#1a1a1a" >75</text>
<line x1="515.7" y1="404.4" x2="515.7" y2="407" stroke="#444444" stroke-width="0.8"/>
<text x="515.7" y="415.81" font-size="7.51" text-anchor="middle" fill="#1a1a1a" >100</text>
<line x1="549.75" y1="404.4" x2="549.75" y2="407" stroke="#444444" stroke-width="0.8"/>
<text x="549.75" y="415.81" font-size="7.51" text-anchor="middle" fill="#1a1a1a" >125</text>
<line x1="583.8" y1="404.4" x2="583.8" y2="407" stroke="#444444" stroke-width="0.8"/>
<text x="583.8" y="415.81" font-size="7.51" text-anchor="middle" fill="#1a1a1a" >150</text>
<line x1="617.85" y1="404.4" x2="617.85" y2="407" stroke="#444444" stroke-width="0.8"/>
<text x="617.85" y="415.81" font-size="7.51" text-anchor="middle" fill="#1a1a1a" >175</text>
<line x1="365.9" y1="386.1" x2="368.5" y2="386.1" stroke="#444444" stroke-width="0.8"/>
<text x="362.8" y="388.95" font-size="7.51" text-anchor="end" fill="#1a1a1a" >0.2</text>
<line x1="365.9" y1="351.4" x2="368.5" y2="351.4" stroke="#444444" stroke-width="0.8"/>
<text x="362.8" y="354.25" font-size="7.51" text-anchor="end" fill="#1a1a1a" >0.4</text>
<line x1="365.9" y1="316.7" x2="368.5" y2="316.7" stroke="#444444" stroke-width="0.8"/>
<text x="362.8" y="319.55" font-size="7.51" text-anchor="end" fill="#1a1a1a" >0.6</text>
<line x1="365.9" y1="282" x2="368.5" y2="282" stroke="#444444" stroke-width="0.8"/>
<text x="362.8" y="284.85" font-size="7.51" text-anchor="end" fill="#1a1a1a" >0.8</text>
<line x1="365.9" y1="247.3" x2="368.5" y2="247.3" stroke="#444444" stroke-width="0.8"/>
<text x="362.8" y="250.15" font-size="7.51" text-anchor="end" fill="#1a1a1a" >1.0</text>
<text x="494.5" y="427.5" font-size="10.5" text-anchor="middle" fill="#1a1a1a" >Cell thickness [<tspan font-style="italic">μ</tspan>m]</text>
<g transform="translate(344.1,333.3) rotate(-90)" fill="#1a1a1a"><text x="0" y="0" font-size="10.5" font-style="italic">c</text><text x="6.15" y="-4.2" font-size="7.35">*</text><text x="6.4" y="3.3" font-size="7.35" font-style="italic">s,<tspan dx="1.2">m</tspan></text></g>
<rect x="371.8" y="244.3" width="102" height="69.2" rx="1.5" ry="1.5" fill="#ffffff" fill-opacity="0.8" stroke="#cccccc" stroke-width="0.7"/>
<line x1="374.3" y1="251.1" x2="390.9" y2="251.1" stroke="#0000ff" stroke-width="1.35"/>
<text x="396.1" y="253.8" font-size="7.51" text-anchor="start" fill="#1a1a1a" >COMSOL 1200 s</text>
<line x1="374.3" y1="262.15" x2="390.9" y2="262.15" stroke="#ff0000" stroke-width="1.35"/>
<text x="396.1" y="264.85" font-size="7.51" text-anchor="start" fill="#1a1a1a" >COMSOL 2400 s</text>
<line x1="374.3" y1="273.2" x2="390.9" y2="273.2" stroke="#008000" stroke-width="1.35"/>
<text x="396.1" y="275.9" font-size="7.51" text-anchor="start" fill="#1a1a1a" >COMSOL 3600 s</text>
<path d="M380.05,282.2L385.15,287.3M380.05,287.3L385.15,282.2" stroke="#1f77b4" stroke-width="1.25" fill="none"/>
<text x="396.1" y="287.45" font-size="7.51" text-anchor="start" fill="#1a1a1a" >batP2dFoam 1200 s</text>
<polygon points="382.6,292.87 383.26,294.89 385.39,294.89 383.67,296.15 384.32,298.17 382.6,296.92 380.88,298.17 381.53,296.15 379.81,294.89 381.94,294.89" fill="#ff7f0e" stroke="#ff7f0e" stroke-width="0.8" stroke-linejoin="miter"/>
<text x="396.1" y="298.5" font-size="7.51" text-anchor="start" fill="#1a1a1a" >batP2dFoam 2400 s</text>
<polygon points="382.6,304.3 380.05,309.4 385.15,309.4" fill="#2ca02c" stroke="#2ca02c" stroke-width="0.8" stroke-linejoin="miter"/>
<text x="396.1" y="309.55" font-size="7.51" text-anchor="start" fill="#1a1a1a" >batP2dFoam 3600 s</text>
</g>
<text x="479.78" y="456.2" letter-spacing="0.35" text-anchor="middle" fill="#111" stroke="none" style="stroke:none;font-family:'Liberation Serif','DejaVu Serif',serif" font-size="17">(<tspan font-weight="bold">d</tspan>)</text>
</svg></body></html>
